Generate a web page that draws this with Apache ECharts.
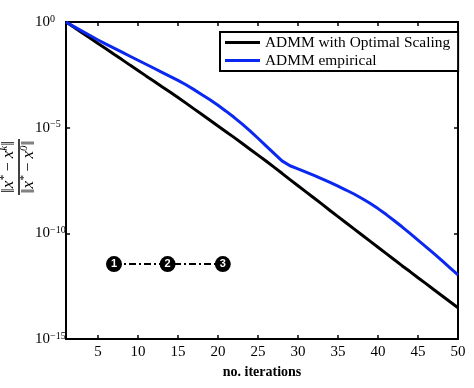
<!DOCTYPE html>
<html>
<head>
<meta charset="utf-8">
<script src="https://cdn.jsdelivr.net/npm/echarts@6/dist/echarts.min.js"></script>
<style>html,body{margin:0;padding:0;background:#fff}#c{width:474px;height:388px}</style>
</head>
<body>
<div id="c"></div>
<script>
var iterations = [1,2,3,4,5,6,7,8,9,10,11,12,13,14,15,16,17,18,19,20,21,22,23,24,25,26,27,28,29,30,31,32,33,34,35,36,37,38,39,40,41,42,43,44,45,46,47,48,49,50];
var optimalScaling = [1,0.562,0.309,0.174,0.0955,0.0537,0.0295,0.0166,0.00912,0.00513,0.00282,0.00158,8.71e-4,4.90e-4,2.69e-4,1.45e-4,7.76e-5,4.17e-5,2.24e-5,1.20e-5,6.46e-6,3.47e-6,1.82e-6,9.55e-7,5.01e-7,2.63e-7,1.35e-7,6.92e-8,3.47e-8,1.78e-8,9.12e-9,4.68e-9,2.40e-9,1.20e-9,6.17e-10,3.16e-10,1.62e-10,8.32e-11,4.27e-11,2.19e-11,1.12e-11,5.75e-12,2.95e-12,1.55e-12,7.94e-13,4.17e-13,2.14e-13,1.12e-13,5.75e-14,3.02e-14];
var empirical = [1,0.603,0.372,0.229,0.141,0.0891,0.0575,0.0372,0.0240,0.0155,0.0100,0.00646,0.00417,0.00269,0.00174,0.00107,6.31e-4,3.63e-4,2.09e-4,1.15e-4,6.03e-5,3.09e-5,1.51e-5,7.08e-6,3.16e-6,1.38e-6,6.03e-7,2.69e-7,1.58e-7,1.12e-7,7.94e-8,5.50e-8,3.80e-8,2.57e-8,1.70e-8,1.12e-8,7.24e-9,4.47e-9,2.63e-9,1.48e-9,7.94e-10,4.07e-10,2.04e-10,1.00e-10,4.79e-11,2.29e-11,1.10e-11,5.13e-12,2.34e-12,1.07e-12];
var seriesNames = ['ADMM with Optimal Scaling', 'ADMM empirical'];
var xTicks = [5,10,15,20,25,30,35,40,45,50];
var annotX = [7.0, 13.7, 20.6];
var annotY = [3.5e-12, 3.5e-12, 3.5e-12];
var annotLabels = ['1','2','3'];

var serif = 'Liberation Serif';
function pairs(xs, ys){ return xs.map(function(x,i){ return [x, ys[i]]; }); }

var chart = echarts.init(document.getElementById('c'), null, {renderer:'canvas'});
var yFmt = function(v){
  var e = Math.round(Math.log(v)/Math.LN10);
  return '{b|10}{s|' + (e === 0 ? '0' : '\u2212' + (-e)) + '}';
};
var yRich = {
  b:{fontFamily:serif, fontSize:15, color:'#000', lineHeight:16},
  s:{fontFamily:serif, fontSize:10, color:'#000', verticalAlign:'top', lineHeight:10, padding:[0,0,8,0]}
};
var fracRich = {
  n:{fontFamily:serif, fontSize:18, color:'#000', lineHeight:18},
  m:{fontFamily:serif, fontSize:16, color:'#000', lineHeight:18},
  i:{fontFamily:serif, fontSize:17, fontStyle:'italic', color:'#000', lineHeight:18},
  p:{fontFamily:serif, fontSize:11, fontStyle:'italic', color:'#000', lineHeight:11, padding:[0,0,9,0]}
};
chart.setOption({
  animation:false,
  backgroundColor:'#fff',
  grid:{left:66, right:16, top:22, bottom:49, show:true, borderColor:'#000', borderWidth:2, outerBoundsMode:'none'},
  legend:{
    data:seriesNames, orient:'vertical', left:220, top:32, align:'left',
    icon:'rect', itemWidth:35, itemHeight:3,
    backgroundColor:'#fff', borderColor:'#000', borderWidth:2, borderRadius:0,
    padding:[2,8,2,5], itemGap:1,
    textStyle:{fontFamily:serif, fontSize:15.4, lineHeight:17, color:'#000'}
  },
  xAxis:[{
    type:'value', min:1, max:50, position:'bottom',
    name:'no. iterations', nameLocation:'middle', nameGap:19,
    nameTextStyle:{fontFamily:serif, fontSize:14, fontWeight:'bold', color:'#000'},
    axisLine:{show:true, lineStyle:{color:'#000', width:2}},
    axisTick:{show:true, inside:true, length:4, customValues:xTicks, lineStyle:{color:'#000', width:1.5}},
    axisLabel:{show:true, customValues:xTicks, margin:6, fontFamily:serif, fontSize:15, color:'#000'},
    splitLine:{show:false}
  },{
    type:'value', min:1, max:50, position:'top',
    axisLine:{show:true, lineStyle:{color:'#000', width:2}},
    axisTick:{show:true, inside:true, length:4, customValues:xTicks, lineStyle:{color:'#000', width:1.5}},
    axisLabel:{show:false}, splitLine:{show:false}
  }],
  yAxis:[{
    type:'log', logBase:10, min:1e-15, max:1, interval:5, position:'left',
    axisLine:{show:true, lineStyle:{color:'#000', width:2}},
    axisTick:{show:true, inside:true, length:4, lineStyle:{color:'#000', width:1.5}},
    axisLabel:{show:true, align:'left', margin:31, formatter:yFmt, rich:yRich},
    minorTick:{show:false}, splitLine:{show:false}
  },{
    type:'log', logBase:10, min:1e-15, max:1, interval:5, position:'right',
    axisLine:{show:true, lineStyle:{color:'#000', width:2}},
    axisTick:{show:true, inside:true, length:4, lineStyle:{color:'#000', width:1.5}},
    axisLabel:{show:false}, splitLine:{show:false}
  }],
  series:[{
    name:seriesNames[0], type:'line', data:pairs(iterations, optimalScaling),
    symbol:'none', showSymbol:false, lineStyle:{color:'#000', width:3}, itemStyle:{color:'#000'}, z:3
  },{
    name:seriesNames[1], type:'line', data:pairs(iterations, empirical),
    symbol:'none', showSymbol:false, lineStyle:{color:'#0a28f0', width:3}, itemStyle:{color:'#0a28f0'}, z:4
  },{
    name:'annotation', type:'line', data:pairs(annotX, annotY),
    symbol:'circle', symbolSize:16, showSymbol:true,
    lineStyle:{color:'#000', width:2, type:[7,3,2,3]},
    itemStyle:{color:'#000', borderWidth:0},
    label:{show:true, position:'inside', color:'#fff', fontFamily:'Liberation Sans', fontWeight:'bold', fontSize:11,
      formatter:function(p){ return annotLabels[p.dataIndex]; }},
    z:5
  }],
  graphic:[{
    type:'group', x:19, y:167, rotation:Math.PI/2,
    children:[
      {type:'text', x:0, y:-1, style:{text:'{n|\u2016}{i|x}{p|*}{m| \u2212 }{i|x}{p|k}{n|\u2016}', rich:fracRich, align:'center', verticalAlign:'bottom'}},
      {type:'line', shape:{x1:-28, y1:0, x2:28, y2:0}, style:{stroke:'#000', lineWidth:1.5}},
      {type:'text', x:0, y:1, style:{text:'{n|\u2016}{i|x}{p|*}{m| \u2212 }{i|x}{p|0}{n|\u2016}', rich:fracRich, align:'center', verticalAlign:'top'}}
    ]
  }]
});
</script>
</body>
</html>
